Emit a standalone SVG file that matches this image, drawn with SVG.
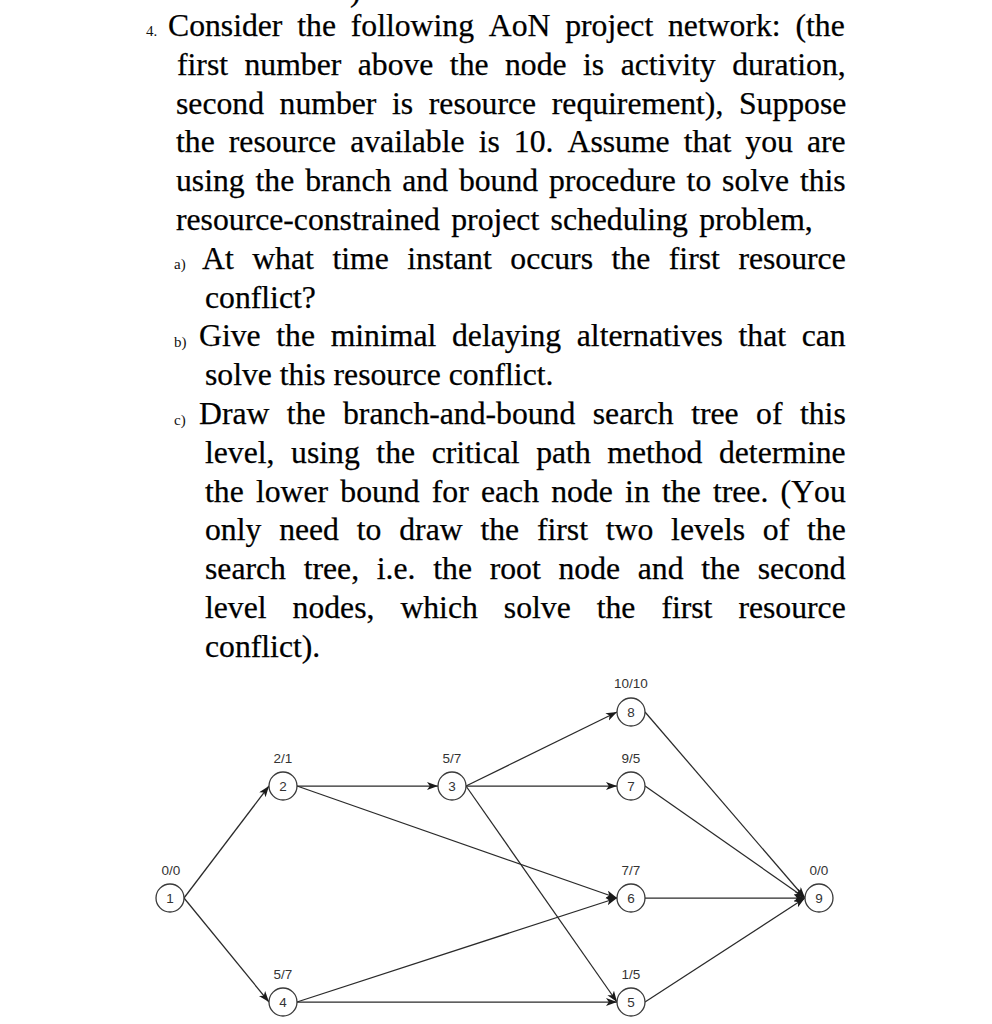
<svg xmlns="http://www.w3.org/2000/svg" width="992" height="1024" viewBox="0 0 992 1024">
<style>
.t{font-family:"Liberation Serif","Times New Roman",serif;font-size:31.7px;fill:#000;stroke:#000;stroke-width:0.25;font-kerning:none}
.s{font-family:"Liberation Serif","Times New Roman",serif;font-size:15px;fill:#111}
.lb{font-family:"Liberation Sans",Arial,sans-serif;font-size:13.5px;fill:#333;text-anchor:middle}
.nn{font-family:"Liberation Sans",Arial,sans-serif;font-size:13.5px;fill:#333;text-anchor:middle}
.c{fill:#fff;stroke:#3a3a3a;stroke-width:1.3}
.e{stroke:#2a2a2a;stroke-width:1.25;fill:none;marker-end:url(#ah)}
</style>
<defs>
<marker id="ah" markerWidth="12" markerHeight="9" refX="11" refY="4" orient="auto" markerUnits="userSpaceOnUse">
<path d="M0,0 L11,4 L0,8 L2.8,4 z" fill="#1a1a1a"/>
</marker>
</defs>
<rect width="992" height="1024" fill="#fff"/>
<g id="question">
<text class="t" x="350" y="1">)</text>
<text class="s" x="146" y="36">4.</text>
<text class="t" x="168" y="36" style="word-spacing:6.89px">Consider the following AoN project network: (the</text>
<text class="t" x="177" y="74.8" style="word-spacing:8.53px">first number above the node is activity duration,</text>
<text class="t" x="176" y="113.6" style="word-spacing:7.71px">second number is resource requirement), Suppose</text>
<text class="t" x="176" y="152.4" style="word-spacing:6.16px">the resource available is 10. Assume that you are</text>
<text class="t" x="176" y="191.2" style="word-spacing:2.97px">using the branch and bound procedure to solve this</text>
<text class="t" x="176" y="230" style="word-spacing:3.41px">resource-constrained project scheduling problem,</text>
<text class="s" x="174" y="269">a)</text>
<text class="t" x="202" y="268.8" style="word-spacing:10.63px">At what time instant occurs the first resource</text>
<text class="t" x="205" y="307.6">conflict?</text>
<text class="s" x="174" y="347">b)</text>
<text class="t" x="199" y="346.4" style="word-spacing:7.76px">Give the minimal delaying alternatives that can</text>
<text class="t" x="205" y="385.2">solve this resource conflict.</text>
<text class="s" x="174" y="425">c)</text>
<text class="t" x="199" y="424" style="word-spacing:9.54px">Draw the branch-and-bound search tree of this</text>
<text class="t" x="205" y="462.8" style="word-spacing:8.66px">level, using the critical path method determine</text>
<text class="t" x="205" y="501.6" style="word-spacing:4.32px">the lower bound for each node in the tree. (You</text>
<text class="t" x="205" y="540.4" style="word-spacing:9.89px">only need to draw the first two levels of the</text>
<text class="t" x="205" y="579.2" style="word-spacing:9.81px">search tree, i.e. the root node and the second</text>
<text class="t" x="205" y="618" style="word-spacing:18.06px">level nodes, which solve the first resource</text>
<text class="t" x="205" y="656.8">conflict).</text>
</g>
<g id="connectors">
<line class="e" x1="184" y1="898" x2="269" y2="786"/>
<line class="e" x1="184" y1="898" x2="269" y2="1002"/>
<line class="e" x1="297" y1="786" x2="438" y2="786"/>
<line class="e" x1="297" y1="786" x2="617" y2="898"/>
<line class="e" x1="466" y1="786" x2="617" y2="712"/>
<line class="e" x1="466" y1="786" x2="617" y2="786"/>
<line class="e" x1="466" y1="786" x2="617" y2="1002"/>
<line class="e" x1="297" y1="1002" x2="617" y2="898"/>
<line class="e" x1="297" y1="1002" x2="617" y2="1002"/>
<line class="e" x1="645" y1="712" x2="805" y2="898"/>
<line class="e" x1="645" y1="786" x2="805" y2="898"/>
<line class="e" x1="645" y1="898" x2="805" y2="898"/>
<line class="e" x1="645" y1="1002" x2="805" y2="898"/>
</g>
<g id="n1"><text class="lb" x="171" y="875">0/0</text><circle class="c" cx="170" cy="898" r="14"/><text class="nn" x="170" y="903">1</text></g>
<g id="n2"><text class="lb" x="283" y="763">2/1</text><circle class="c" cx="283" cy="786" r="14"/><text class="nn" x="283" y="791">2</text></g>
<g id="n3"><text class="lb" x="452" y="763">5/7</text><circle class="c" cx="452" cy="786" r="14"/><text class="nn" x="452" y="791">3</text></g>
<g id="n4"><text class="lb" x="283" y="979">5/7</text><circle class="c" cx="283" cy="1002" r="14"/><text class="nn" x="283" y="1007">4</text></g>
<g id="n8"><text class="lb" x="631" y="688">10/10</text><circle class="c" cx="631" cy="712" r="14"/><text class="nn" x="631" y="717">8</text></g>
<g id="n7"><text class="lb" x="631" y="763">9/5</text><circle class="c" cx="631" cy="786" r="14"/><text class="nn" x="631" y="791">7</text></g>
<g id="n6"><text class="lb" x="631" y="875">7/7</text><circle class="c" cx="631" cy="898" r="14"/><text class="nn" x="631" y="903">6</text></g>
<g id="n5"><text class="lb" x="631" y="979">1/5</text><circle class="c" cx="631" cy="1002" r="14"/><text class="nn" x="631" y="1007">5</text></g>
<g id="n9"><text class="lb" x="819" y="875">0/0</text><circle class="c" cx="819" cy="898" r="14"/><text class="nn" x="819" y="903">9</text></g>
</svg>
